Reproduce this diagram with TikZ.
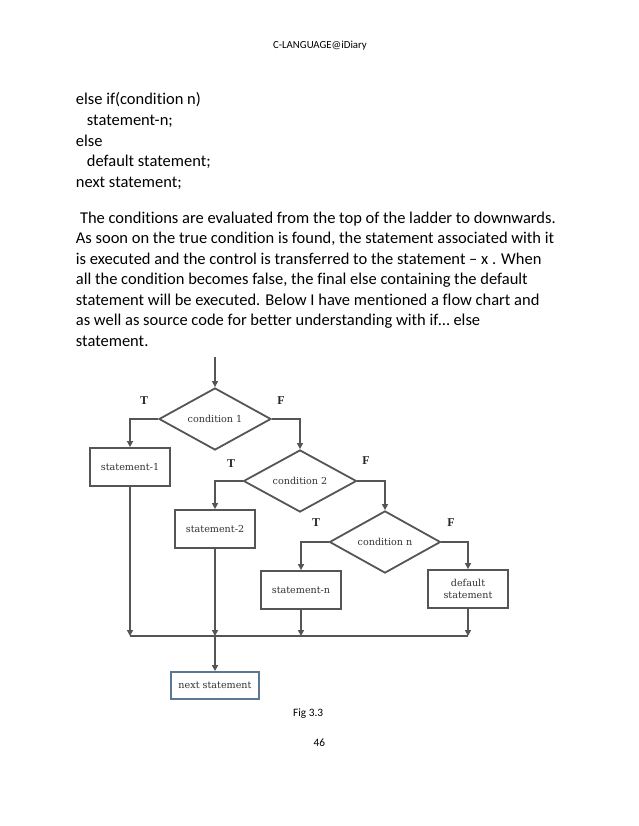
\documentclass[tikz,border=0pt]{standalone}
\usepackage{fontspec}
\setmainfont{Carlito}[Ligatures={NoCommon,NoContextual},RawFeature={-calt;-dlig;-rlig}]
\newfontfamily\diafont{DejaVu Serif}
\newfontfamily\tffont{Liberation Serif}
\usetikzlibrary{shapes.geometric,arrows.meta}
\definecolor{lineg}{HTML}{555555}
\definecolor{textg}{HTML}{333333}
\definecolor{nextb}{HTML}{5A7894}
\tikzset{
  body/.style={anchor=base west,inner sep=0pt,font=\fontsize{16.5}{20.5}\selectfont},
  small/.style={anchor=base west,inner sep=0pt,font=\fontsize{11.3}{13}\selectfont},
  dia/.style={diamond,draw=lineg,line width=1.8pt,inner sep=0pt,text=textg,font=\diafont\fontsize{9.6}{11}\selectfont},
  box/.style={rectangle,draw=lineg,line width=1.8pt,inner sep=0pt,minimum height=38pt,minimum width=80pt,text=textg,align=center,font=\diafont\fontsize{9.6}{11.5}\selectfont},
  tf/.style={inner sep=0pt,text=black!85,font=\tffont\bfseries\fontsize{12}{13}\selectfont},
  arr/.style={draw=lineg,line width=1.8pt,-{Triangle[length=6pt,width=6pt]}},
  ln/.style={draw=lineg,line width=1.8pt}
}
\begin{document}
\begin{tikzpicture}[x=1pt,y=-1pt]
\useasboundingbox[fill=white] (0,0) rectangle (638,826);
% header
\node[anchor=base,inner sep=0pt,font=\fontsize{10.8}{12}\selectfont] (hdr) at (320,49) {C-LANGUAGE@iDiary};
% code
\node[body] (c1) at (75.7,105) {else if(condition n)};
\node[body] (c2) at (86.7,126) {statement-n;};
\node[body] (c3) at (75.7,147) {else};
\node[body] (c4) at (86.7,167) {default statement;};
\node[body] (c5) at (75.7,188) {next statement;};
% paragraph
\node[body] (p1) at (79.8,223) {The conditions are evaluated from the top of the ladder to downwards.};
\node[body] (p2) at (75.7,243.5) {As soon on the true condition is found, the statement associated with it};
\node[body] (p3) at (75.7,264) {is executed and the control is transferred to the statement – x . When};
\node[body] (p4) at (75.7,284.5) {all the condition becomes false, the final else containing the default};
\node[body] (p5) at (75.7,305) {statement will be executed. Below I have mentioned a flow chart and};
\node[body] (p6) at (75.7,325.5) {as well as source code for better understanding with if… else};
\node[body] (p7) at (75.7,346) {statement.};
% flowchart
\coordinate (top) at (215,357);
\node[dia,minimum width=112pt,minimum height=58pt] (d1) at (215,419) {condition 1};
\node[dia,minimum width=113pt,minimum height=60pt] (d2) at (300,481) {condition 2};
\node[dia,minimum width=111pt,minimum height=60pt] (dn) at (385,542) {condition n};
\node[box] (s1) at (130,467) {statement-1};
\node[box] (s2) at (215,529) {statement-2};
\node[box] (sn) at (301,590) {statement-n};
\node[box] (def) at (468,589) {default\\statement};
\node[rectangle,draw=nextb,line width=1.9pt,inner sep=0pt,minimum width=88pt,minimum height=27pt,text=textg,font=\diafont\fontsize{9.6}{11}\selectfont] (next) at (215,685.5) {next statement};
\node[tf] (t1) at (144,401) {T};
\node[tf] (f1) at (281,401) {F};
\node[tf] (t2) at (231,464) {T};
\node[tf] (f2) at (366,461) {F};
\node[tf] (tn) at (316,523) {T};
\node[tf] (fn) at (451,523) {F};
\coordinate (bus) at (0,636);
\draw[arr] (top) -- (d1.north);
\draw[arr] (d1.west) -| (s1.north);
\draw[arr] (d1.east) -| (d2.north);
\draw[arr] (d2.west) -| (s2.north);
\draw[arr] (d2.east) -| (dn.north);
\draw[arr] (dn.west) -| (sn.north);
\draw[arr] (dn.east) -| (def.north);
\draw[ln] (s1.south |- bus) -- (def.south |- bus);
\draw[arr] (s1.south) -- (s1.south |- bus);
\draw[arr] (s2.south) -- (s2.south |- bus);
\draw[arr] (sn.south) -- (sn.south |- bus);
\draw[arr] (def.south) -- (def.south |- bus);
\draw[arr] (next.north |- bus) -- (next.north);
% caption and page number
\node[small] (fig) at (293,716) {Fig 3.3};
\node[small] (pg) at (313.5,746) {46};
\end{tikzpicture}
\end{document}
